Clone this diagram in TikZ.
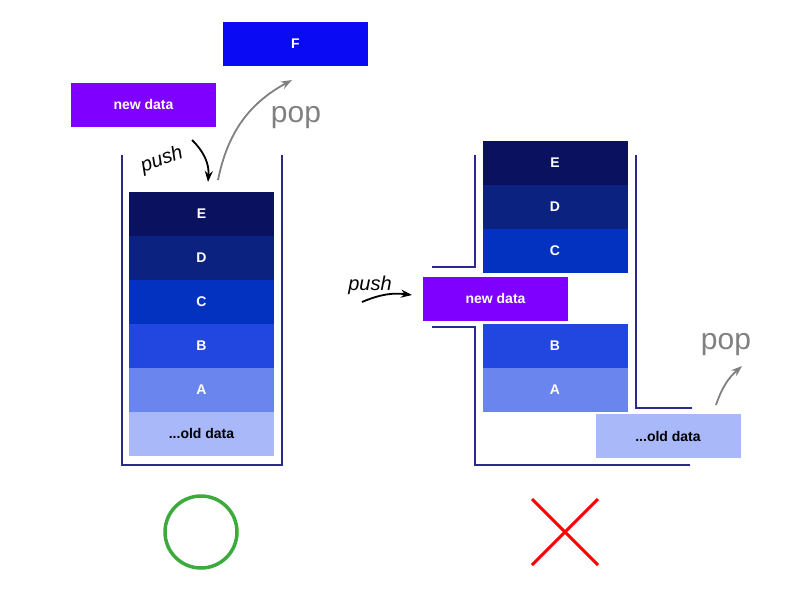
\documentclass[tikz,border=0pt]{standalone}
\usepackage{fontspec}
\setmainfont{Liberation Sans}
\usetikzlibrary{arrows.meta}
\definecolor{cE}{HTML}{0A1260}
\definecolor{cD}{HTML}{0C2280}
\definecolor{cC}{HTML}{0332C0}
\definecolor{cB}{HTML}{2247E0}
\definecolor{cA}{HTML}{6A85EE}
\definecolor{cO}{HTML}{A8B8F8}
\definecolor{cF}{HTML}{0A0AF5}
\definecolor{cN}{HTML}{8000FF}
\definecolor{wall}{HTML}{2A2A8C}
\begin{document}
\begin{tikzpicture}[x=1pt,y=-1pt,
 blk/.style={minimum width=145pt,minimum height=44pt,inner sep=0pt,text=white,font=\bfseries\fontsize{14}{16}\selectfont},
 wall/.style={draw=wall,line width=2pt},
 hand/.style={font=\itshape\fontsize{20}{22}\selectfont,inner sep=0pt},
 harr/.style={-{Stealth[length=11pt,width=8pt]},line width=1.8pt}]
\useasboundingbox (0,0) rectangle (800,600);
% left
\draw[wall] (122,155) -- (122,465) -- (282,465) -- (282,155);
\node[blk,fill=cE] (lE) at (201.5,214) {E};
\node[blk,fill=cD] (lD) at (201.5,258) {D};
\node[blk,fill=cC] (lC) at (201.5,302) {C};
\node[blk,fill=cB] (lB) at (201.5,346) {B};
\node[blk,fill=cA] (lA) at (201.5,390) {A};
\node[blk,fill=cO,text=black] (lO) at (201.5,433.5) {...old data};
\node[blk,fill=cF] (F) at (295.5,43.5) {F};
\node[blk,fill=cN] (lN) at (143.5,104.5) {new data};
\node[hand,rotate=20] (lpush) at (162,160) {push};
\coordinate (lp1) at (192,140);
\coordinate (lp2) at (208,182);
\draw[harr] (lp1) to[bend left=25] (lp2);
\node[hand,text=gray,font=\fontsize{30}{32}\selectfont] (lpop) at (296,118) {pop};
\coordinate (lq1) at (218,180);
\coordinate (lq2) at (292,80);
\draw[harr,gray] (lq1) to[bend left=25] (lq2);
\draw[draw={rgb,255:red,60;green,170;blue,60},line width=3.5pt] (201,532) circle (36);
% right
\draw[wall] (475,155) -- (475,267) -- (432,267);
\draw[wall] (432,327) -- (475,327) -- (475,465) -- (690,465);
\draw[wall] (636,155) -- (636,408) -- (692,408);
\node[blk,fill=cE] (rE) at (555,163) {E};
\node[blk,fill=cD] (rD) at (555,207) {D};
\node[blk,fill=cC] (rC) at (555,250.5) {C};
\node[blk,fill=cN] (rN) at (495.5,298.5) {new data};
\node[blk,fill=cB] (rB) at (555,346) {B};
\node[blk,fill=cA] (rA) at (555,389.5) {A};
\node[blk,fill=cO,text=black] (rO) at (668,436) {...old data};
\node[hand] (rpush) at (370,285) {push};
\coordinate (rp1) at (362,302);
\coordinate (rp2) at (412,295);
\draw[harr] (rp1) to[bend left=15] (rp2);
\node[hand,text=gray,font=\fontsize{30}{32}\selectfont] (rpop) at (726,345) {pop};
\coordinate (rq1) at (716,405);
\coordinate (rq2) at (742,366);
\draw[harr,gray] (rq1) to[bend left=15] (rq2);
\draw[red,line width=3pt] (532,499) -- (598,565) (598,499) -- (532,565);
\end{tikzpicture}
\end{document}
